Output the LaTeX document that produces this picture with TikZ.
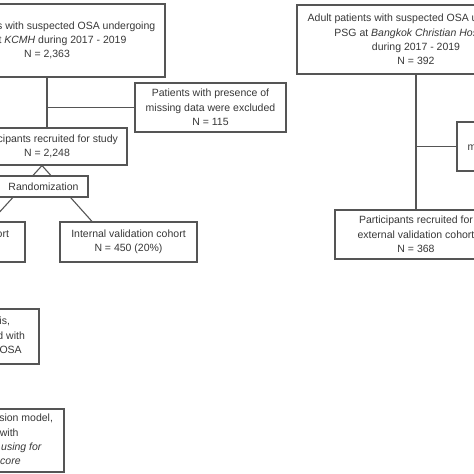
\documentclass[tikz,border=0pt]{standalone}
\usepackage{fontspec}
\setmainfont{Liberation Sans}
\definecolor{boxgray}{HTML}{555555}
\definecolor{txtgray}{HTML}{383838}
\tikzset{
  box/.style={draw=boxgray, line width=1.1pt, fill=white, align=center, inner sep=0pt,
    font=\fontsize{10.5}{14.3}\selectfont, text=txtgray},
  conn/.style={draw=boxgray, line width=1.1pt}
}
\begin{document}
\begin{tikzpicture}[x=1pt,y=-1pt]
\useasboundingbox (0,0) rectangle (474,474);
\clip (0,0) rectangle (474,474);
% left column
\node[box, minimum width=236pt, minimum height=73pt] (A) at (47,40.5)
  {Adult patients with suspected OSA undergoing\\PSG at \textit{KCMH} during 2017 - 2019\\N = 2,363};
\node[box, minimum width=151pt, minimum height=49pt] (B) at (210.5,107.5)
  {Patients with presence of\\missing data were excluded\\N = 115};
\node[box, minimum width=160pt, minimum height=37pt] (C) at (47,146.5)
  {Participants recruited for study\\N = 2,248};
\node[box, minimum width=126pt, minimum height=40pt] (T) at (-38,242)
  {Development cohort\\N = 1,798 (80\%)};
\node[box, minimum width=137pt, minimum height=40pt] (I) at (128.5,242)
  {Internal validation cohort\\N = 450 (20\%)};
\draw[conn] (A.south) -- (C.north);
\draw[conn] (A.south |- B.west) -- (B.west);
\draw[conn] ([xshift=-5pt]C.south) -- ([xshift=29pt]T.north);
\draw[conn] ([xshift=-5pt]C.south) -- ([xshift=-36.5pt]I.north);
\node[box, minimum width=89pt, minimum height=21pt] (R) at (43.5,186.5) {Randomization};
\node[box, minimum width=149pt, minimum height=55pt] (D) at (-35.5,336.5)
  {Univariate analysis,\\predictors associated with\\the development of OSA};
\node[box, minimum width=197pt, minimum height=63pt] (E) at (-34.5,440.5)
  {Multivariate logistic regression model,\\factors associated with\\\textit{the significant variables using for}\\\textit{developing a new score}};
% right column
\node[box, minimum width=238pt, minimum height=69pt] (F) at (416,39.5)
  {Adult patients with suspected OSA undergoing\\PSG at \textit{Bangkok Christian Hospital}\\during 2017 - 2019\\N = 392};
\node[box, minimum width=151pt, minimum height=49pt] (H) at (532.5,146.5)
  {Patients with presence of\\missing data were excluded\\N = 24};
\node[box, minimum width=162pt, minimum height=49pt] (G) at (416,234.5)
  {Participants recruited for\\external validation cohort\\N = 368};
\draw[conn] (F.south) -- (G.north);
\draw[conn] (F.south |- H.west) -- (H.west);
\end{tikzpicture}
\end{document}
